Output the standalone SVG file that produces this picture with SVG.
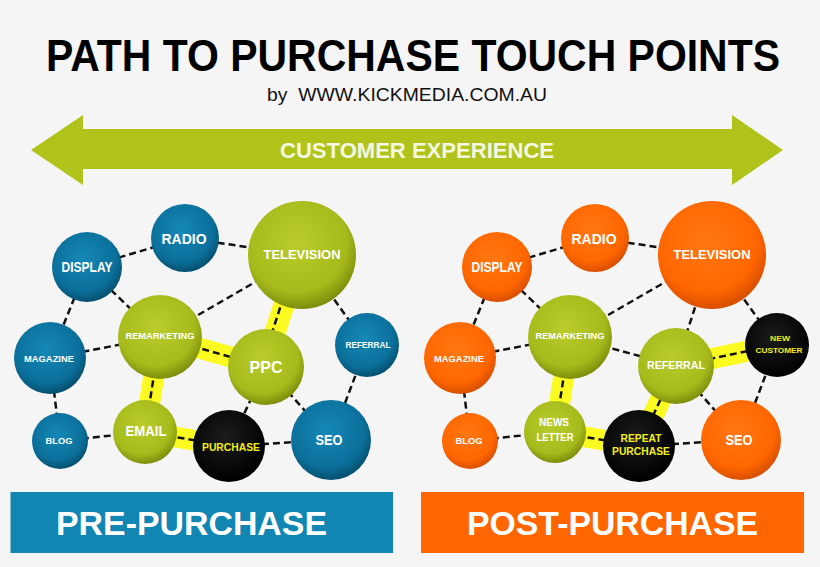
<svg xmlns="http://www.w3.org/2000/svg" width="820" height="567" viewBox="0 0 820 567">
<defs>
<radialGradient id="gBlue" cx="45%" cy="38%" r="62%"><stop offset="0" stop-color="#1688b6"/><stop offset="0.75" stop-color="#0b6f9a"/><stop offset="1" stop-color="#05506f"/></radialGradient>
<radialGradient id="gGreen" cx="45%" cy="38%" r="62%"><stop offset="0" stop-color="#b9cc2c"/><stop offset="0.75" stop-color="#a6ba1b"/><stop offset="1" stop-color="#7e8e0c"/></radialGradient>
<radialGradient id="gOrange" cx="45%" cy="38%" r="62%"><stop offset="0" stop-color="#ff7812"/><stop offset="0.75" stop-color="#ff6600"/><stop offset="1" stop-color="#d84f00"/></radialGradient>
<radialGradient id="gBlack" cx="45%" cy="38%" r="62%"><stop offset="0" stop-color="#1c1c1c"/><stop offset="1" stop-color="#000"/></radialGradient>
</defs>
<style>
text{font-family:"Liberation Sans",Arial,sans-serif;font-weight:bold;text-anchor:middle}
.blue{fill:url(#gBlue)}
.green{fill:url(#gGreen)}
.orange{fill:url(#gOrange)}
.black{fill:url(#gBlack)}
.lw{fill:#ffffff}
.ly{fill:#f2ee1c}
.dash{stroke:#111;stroke-width:2.5;stroke-dasharray:7 4;fill:none}
.hl{stroke:#fbfb22;stroke-width:21;fill:none}
</style>
<rect width="820" height="567" fill="#f5f5f5"/>
<text transform="translate(413,71) scale(1,1.18)" x="0" y="0" font-size="37" textLength="734" lengthAdjust="spacingAndGlyphs" fill="#000">PATH TO PURCHASE TOUCH POINTS</text>
<text transform="translate(407,101) scale(1,1.1)" x="0" y="0" font-size="16.5" style="font-weight:normal;white-space:pre" textLength="280" lengthAdjust="spacingAndGlyphs" fill="#111">by  WWW.KICKMEDIA.COM.AU</text>
<g id="arrow">
<polygon points="31,150 83,115 83,129 732,129 732,115 783,150 732,185 732,169 83,169 83,185" fill="#b0c31b"/>
<text transform="translate(417,158) scale(1,1.1)" x="0" y="0" font-size="19.5" textLength="274" lengthAdjust="spacingAndGlyphs" fill="#f4f7e2">CUSTOMER EXPERIENCE</text>
</g>
<g id="connectors">
<!-- left highlights -->
<line class="hl" x1="300" y1="255" x2="264" y2="367"/>
<line class="hl" x1="160" y1="337" x2="266" y2="367"/>
<line class="hl" x1="160" y1="337" x2="145" y2="432"/>
<line class="hl" x1="145" y1="432" x2="229" y2="446"/>
<!-- right highlights -->
<line class="hl" x1="570" y1="337" x2="555" y2="432"/>
<line class="hl" x1="555" y1="432" x2="639" y2="446"/>
<line class="hl" x1="639" y1="446" x2="676" y2="366"/>
<line class="hl" x1="676" y1="366" x2="777" y2="345"/>
<!-- left dashed -->
<line class="dash" x1="87" y1="267" x2="185" y2="238"/>
<line class="dash" x1="185" y1="238" x2="302" y2="255"/>
<line class="dash" x1="87" y1="267" x2="160" y2="337"/>
<line class="dash" x1="87" y1="267" x2="50" y2="358"/>
<line class="dash" x1="50" y1="358" x2="160" y2="337"/>
<line class="dash" x1="50" y1="358" x2="60" y2="441"/>
<line class="dash" x1="60" y1="441" x2="145" y2="432"/>
<line class="dash" x1="160" y1="337" x2="302" y2="255"/>
<line class="dash" x1="302" y1="255" x2="367" y2="345"/>
<line class="dash" x1="367" y1="345" x2="331" y2="440"/>
<line class="dash" x1="266" y1="367" x2="331" y2="440"/>
<line class="dash" x1="266" y1="367" x2="229" y2="446"/>
<line class="dash" x1="229" y1="446" x2="331" y2="440"/>
<line class="dash" x1="160" y1="337" x2="266" y2="367"/>
<line class="dash" x1="297" y1="255" x2="261" y2="367"/>
<line class="dash" x1="160" y1="337" x2="145" y2="432"/>
<line class="dash" x1="145" y1="432" x2="229" y2="446"/>
<!-- right dashed -->
<line class="dash" x1="497" y1="267" x2="595" y2="238"/>
<line class="dash" x1="595" y1="238" x2="712" y2="255"/>
<line class="dash" x1="497" y1="267" x2="570" y2="337"/>
<line class="dash" x1="497" y1="267" x2="460" y2="358"/>
<line class="dash" x1="460" y1="358" x2="570" y2="337"/>
<line class="dash" x1="460" y1="358" x2="470" y2="441"/>
<line class="dash" x1="470" y1="441" x2="555" y2="432"/>
<line class="dash" x1="570" y1="337" x2="712" y2="255"/>
<line class="dash" x1="712" y1="255" x2="777" y2="345"/>
<line class="dash" x1="777" y1="345" x2="741" y2="440"/>
<line class="dash" x1="676" y1="366" x2="741" y2="440"/>
<line class="dash" x1="570" y1="337" x2="676" y2="366"/>
<line class="dash" x1="712" y1="255" x2="676" y2="366"/>
<line class="dash" x1="639" y1="446" x2="741" y2="440"/>
<line class="dash" x1="570" y1="337" x2="555" y2="432"/>
<line class="dash" x1="555" y1="432" x2="639" y2="446"/>
<line class="dash" x1="639" y1="446" x2="676" y2="366"/>
<line class="dash" x1="676" y1="366" x2="777" y2="345"/>
</g>
<!-- left nodes -->
<g id="pre-radio"><circle class="blue" cx="185" cy="238" r="34"/><text class="lw" x="184" y="244" font-size="15" textLength="45" lengthAdjust="spacingAndGlyphs">RADIO</text></g>
<g id="pre-television"><circle class="green" cx="302" cy="255" r="54"/><text class="lw" x="302" y="259" font-size="13" textLength="77" lengthAdjust="spacingAndGlyphs">TELEVISION</text></g>
<g id="pre-display"><circle class="blue" cx="87" cy="267" r="35"/><text class="lw" x="87" y="272" font-size="14" textLength="51" lengthAdjust="spacingAndGlyphs">DISPLAY</text></g>
<g id="pre-remarketing"><circle class="green" cx="160" cy="337" r="42"/><text class="lw" x="160" y="339" font-size="9.5" textLength="69" lengthAdjust="spacingAndGlyphs">REMARKETING</text></g>
<g id="pre-ppc"><circle class="green" cx="266" cy="367" r="38"/><text class="lw" x="266" y="373" font-size="17" textLength="33" lengthAdjust="spacingAndGlyphs">PPC</text></g>
<g id="pre-referral"><circle class="blue" cx="367" cy="345" r="32"/><text class="lw" x="368" y="348" font-size="9.5" textLength="45" lengthAdjust="spacingAndGlyphs">REFERRAL</text></g>
<g id="pre-magazine"><circle class="blue" cx="50" cy="358" r="36"/><text class="lw" x="49" y="362" font-size="9.5" textLength="50" lengthAdjust="spacingAndGlyphs">MAGAZINE</text></g>
<g id="pre-blog"><circle class="blue" cx="60" cy="441" r="28"/><text class="lw" x="59" y="444" font-size="9.5" textLength="27" lengthAdjust="spacingAndGlyphs">BLOG</text></g>
<g id="pre-email"><circle class="green" cx="145" cy="432" r="32"/><text class="lw" x="146" y="436" font-size="15" textLength="41" lengthAdjust="spacingAndGlyphs">EMAIL</text></g>
<g id="pre-purchase"><circle class="black" cx="229" cy="446" r="36"/><text class="ly" x="231" y="451" font-size="10.5" textLength="58" lengthAdjust="spacingAndGlyphs">PURCHASE</text></g>
<g id="pre-seo"><circle class="blue" cx="331" cy="440" r="40"/><text class="lw" x="329" y="445" font-size="15" textLength="27" lengthAdjust="spacingAndGlyphs">SEO</text></g>
<!-- right nodes -->
<g id="post-radio"><circle class="orange" cx="595" cy="238" r="34"/><text class="lw" x="594" y="244" font-size="15" textLength="45" lengthAdjust="spacingAndGlyphs">RADIO</text></g>
<g id="post-television"><circle class="orange" cx="712" cy="255" r="54"/><text class="lw" x="712" y="259" font-size="13" textLength="77" lengthAdjust="spacingAndGlyphs">TELEVISION</text></g>
<g id="post-display"><circle class="orange" cx="497" cy="267" r="35"/><text class="lw" x="497" y="272" font-size="14" textLength="51" lengthAdjust="spacingAndGlyphs">DISPLAY</text></g>
<g id="post-remarketing"><circle class="green" cx="570" cy="337" r="42"/><text class="lw" x="570" y="339" font-size="9.5" textLength="69" lengthAdjust="spacingAndGlyphs">REMARKETING</text></g>
<g id="post-referral"><circle class="green" cx="676" cy="366" r="38"/><text class="lw" x="676" y="369" font-size="11" textLength="58" lengthAdjust="spacingAndGlyphs">REFERRAL</text></g>
<g id="post-new-customer"><circle class="black" cx="777" cy="345" r="32"/><text class="ly" x="780" y="341" font-size="8" textLength="20" lengthAdjust="spacingAndGlyphs">NEW</text><text class="ly" x="779" y="353" font-size="8" textLength="47" lengthAdjust="spacingAndGlyphs">CUSTOMER</text></g>
<g id="post-magazine"><circle class="orange" cx="460" cy="358" r="36"/><text class="lw" x="459" y="362" font-size="9.5" textLength="50" lengthAdjust="spacingAndGlyphs">MAGAZINE</text></g>
<g id="post-blog"><circle class="orange" cx="470" cy="441" r="28"/><text class="lw" x="469" y="444" font-size="9.5" textLength="27" lengthAdjust="spacingAndGlyphs">BLOG</text></g>
<g id="post-newsletter"><circle class="green" cx="555" cy="432" r="31"/><text class="lw" x="554" y="426" font-size="10" textLength="30" lengthAdjust="spacingAndGlyphs">NEWS</text><text class="lw" x="555" y="441" font-size="10" textLength="37" lengthAdjust="spacingAndGlyphs">LETTER</text></g>
<g id="post-repeat-purchase"><circle class="black" cx="639" cy="446" r="36"/><text class="ly" x="641" y="442" font-size="10.5" textLength="41" lengthAdjust="spacingAndGlyphs">REPEAT</text><text class="ly" x="641" y="455" font-size="10.5" textLength="58" lengthAdjust="spacingAndGlyphs">PURCHASE</text></g>
<g id="post-seo"><circle class="orange" cx="741" cy="440" r="40"/><text class="lw" x="739" y="445" font-size="15" textLength="27" lengthAdjust="spacingAndGlyphs">SEO</text></g>
<!-- bottom labels -->
<g id="pre-purchase-box"><rect x="10.5" y="492" width="382.5" height="61" fill="#1186b2"/><text class="lw" transform="translate(191.5,535) scale(1,1.12)" x="0" y="0" font-size="30" textLength="271" lengthAdjust="spacingAndGlyphs">PRE-PURCHASE</text></g>
<g id="post-purchase-box"><rect x="421" y="492" width="383" height="61" fill="#ff6600"/><text class="lw" transform="translate(612.5,535) scale(1,1.12)" x="0" y="0" font-size="30" textLength="291" lengthAdjust="spacingAndGlyphs">POST-PURCHASE</text></g>
</svg>
